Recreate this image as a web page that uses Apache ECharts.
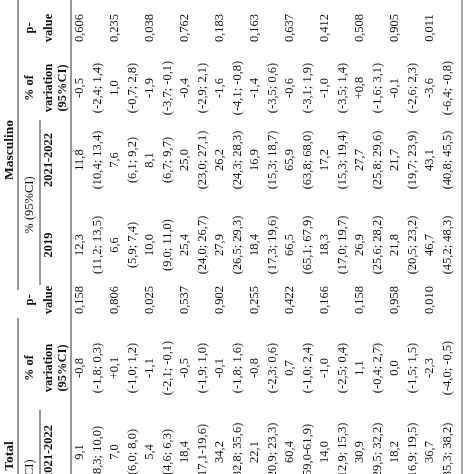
<!DOCTYPE html>
<html>
<head>
<meta charset="utf-8">
<script src="https://cdn.jsdelivr.net/npm/echarts@6/dist/echarts.min.js"></script>
<style>html,body{margin:0;padding:0;background:#fff}#main{width:474px;height:474px}</style>
</head>
<body>
<div id="main"></div>
<script>
// table data (rows)
var totalVal = ['9,1', '7,0', '5,4', '18,4', '34,2', '22,1', '60,4', '14,0', '30,9', '18,2', '36,7'];
var totalCI = ['(8,3; 10,0)', '(6,0; 8,0)', '(4,6; 6,3)', '(17,1-19,6)', '(32,8; 35,6)', '(20,9; 23,3)', '(59,0-61,9)', '(12,9; 15,3)', '(29,5; 32,2)', '(16,9; 19,5)', '(35,3; 38,2)'];
var totalVar = ['-0,8', '+0,1', '-1,1', '-0,5', '-0,1', '-0,8', '0,7', '-1,0', '1,1', '0,0', '-2,3'];
var totalVarCI = ['(-1,8; 0,3)', '(-1,0; 1,2)', '(-2,1; -0,1)', '(-1,9; 1,0)', '(-1,8; 1,6)', '(-2,3; 0,6)', '(-1,0; 2,4)', '(-2,5; 0,4)', '(-0,4; 2,7)', '(-1,5; 1,5)', '(-4,0; -0,5)'];
var totalP = ['0,158', '0,806', '0,025', '0,537', '0,902', '0,255', '0,422', '0,166', '0,158', '0,958', '0,010'];
var mascVal2019 = ['12,3', '6,6', '10,0', '25,4', '27,9', '18,4', '66,5', '18,3', '26,9', '21,8', '46,7'];
var mascCI2019 = ['(11,2; 13,5)', '(5,9; 7,4)', '(9,0; 11,0)', '(24,0; 26,7)', '(26,5; 29,3)', '(17,3; 19,6)', '(65,1; 67,9)', '(17,0; 19,7)', '(25,6; 28,2)', '(20,5; 23,2)', '(45,2; 48,3)'];
var mascVal2122 = ['11,8', '7,6', '8,1', '25,0', '26,2', '16,9', '65,9', '17,2', '27,7', '21,7', '43,1'];
var mascCI2122 = ['(10,4; 13,4)', '(6,1; 9,2)', '(6,7; 9,7)', '(23,0; 27,1)', '(24,3; 28,3)', '(15,3; 18,7)', '(63,8; 68,0)', '(15,3; 19,4)', '(25,8; 29,6)', '(19,7; 23,9)', '(40,8; 45,5)'];
var mascVar = ['-0,5', '1,0', '-1,9', '-0,4', '-1,6', '-1,4', '-0,6', '-1,0', '+0,8', '-0,1', '-3,6'];
var mascVarCI = ['(-2,4; 1,4)', '(-0,7; 2,8)', '(-3,7; -0,1)', '(-2,9; 2,1)', '(-4,1; -0,8)', '(-3,5; 0,6)', '(-3,1; 1,9)', '(-3,5; 1,4)', '(-1,6; 3,1)', '(-2,6; 2,3)', '(-6,4; -0,8)'];
var mascP = ['0,606', '0,235', '0,038', '0,762', '0,183', '0,163', '0,637', '0,412', '0,508', '0,905', '0,011'];

var chart = echarts.init(document.getElementById('main'));
var els = [];
var font = '"Liberation Serif", "DejaVu Serif", serif';

// the table is printed rotated: text reads bottom to top
function txt(s, x, y, bold, size) {
	els.push({
		type: 'text', x: x, y: y, rotation: Math.PI / 2,
		style: {text: s, x: 0, y: 0, align: 'center', verticalAlign: 'middle',
			font: (bold ? 'bold ' : '') + (size || 12.5) + 'px ' + font, fill: '#111'}
	});
}
function rule(x, y1, y2, color, w) {
	els.push({type: 'line', shape: {x1: x, y1: y1, x2: x, y2: y2},
		style: {stroke: color || '#333', lineWidth: w || 1}});
}

// column centres
var cMascP = 28, cMascVar = 88, cMasc2122 = 160, cMasc2019 = 245, cTotP = 300, cTotVar = 368, cTot2122 = 452;

txt('Total', 10, 456, true, 13.5);
txt('Masculino', 10, 150, true, 13.5);
txt('% (95%CI)', 30, 205, false);
txt('% (95%CI)', 30, 488, false);
[cMascVar, cTotVar].forEach(function(c) {
	txt('% of', 30, c, true);
	txt('variation', 49, c, true);
	txt('(95%CI)', 63, c, true);
});
[cMascP, cTotP].forEach(function(c) {
	txt('p-', 30, c, true);
	txt('value', 49, c, true);
});
txt('2019', 49, cMasc2019, true);
txt('2021-2022', 49, cMasc2122, true);
txt('2021-2022', 49, cTot2122, true);

rule(18, 0, 290);
rule(18, 318, 474);
rule(40, 120, 285);
rule(40, 410, 474);
rule(71, 0, 474);
rule(462, 0, 474, '#aaa', 2);

for (var i = 0; i < totalVal.length; i++) {
	var xv = 80 + 35 * i, xc = xv + 18;
	txt(mascP[i], xv, cMascP);
	txt(mascVar[i], xv, cMascVar);
	txt(mascVarCI[i], xc, cMascVar);
	txt(mascVal2122[i], xv, cMasc2122);
	txt(mascCI2122[i], xc, cMasc2122);
	txt(mascVal2019[i], xv, cMasc2019);
	txt(mascCI2019[i], xc, cMasc2019);
	txt(totalP[i], xv, cTotP);
	txt(totalVar[i], xv, cTotVar);
	txt(totalVarCI[i], xc, cTotVar);
	txt(totalVal[i], xv, cTot2122);
	txt(totalCI[i], xc, cTot2122);
}

chart.setOption({backgroundColor: '#fff', animation: false, graphic: {elements: els}});
</script>
</body>
</html>
